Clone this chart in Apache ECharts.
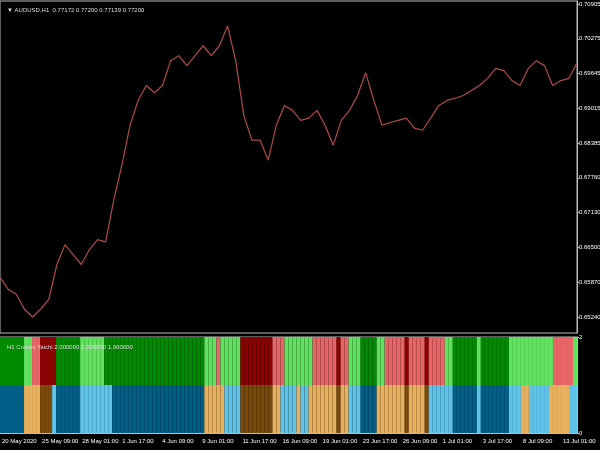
<!DOCTYPE html>
<html><head><meta charset="utf-8">
<script src="https://cdn.jsdelivr.net/npm/echarts@6/dist/echarts.min.js"></script>
<style>html,body{margin:0;background:#000}#c{width:600px;height:450px}</style></head>
<body><div id="c"></div>
<script>
const priceCloses=[0.6596,0.6574,0.6565,0.6538,0.6524,0.6538,0.6556,0.6619,0.6655,0.6637,0.6619,0.6646,0.6664,0.6660,0.6736,0.6799,0.6871,0.6916,0.6943,0.6930,0.6943,0.6988,0.6997,0.6979,0.6997,0.7015,0.6997,0.7015,0.7051,0.6988,0.6889,0.6844,0.6844,0.6808,0.6871,0.6907,0.6898,0.6880,0.6884,0.6898,0.6871,0.6835,0.6880,0.6898,0.6925,0.6966,0.6916,0.6871,0.6876,0.6880,0.6884,0.6866,0.6862,0.6884,0.6907,0.6916,0.6920,0.6925,0.6934,0.6943,0.6956,0.6974,0.6970,0.6952,0.6943,0.6974,0.6988,0.6979,0.6943,0.6952,0.6956,0.6984];
const priceTicks=[0.65240,0.65870,0.66500,0.67130,0.67760,0.68385,0.69015,0.69645,0.70275,0.70905];
const timeLabels=["20 May 2020","25 May 09:00","28 May 01:00","1 Jun 17:00","4 Jun 09:00","9 Jun 01:00","11 Jun 17:00","16 Jun 09:00","19 Jun 01:00","23 Jun 17:00","26 Jun 09:00","1 Jul 01:00","3 Jul 17:00","8 Jul 09:00","13 Jul 01:00"];
const upperRuns=[["G",6],["g",2],["r",2],["R",4],["G",6],["g",6],["G",25],["g",3],["r",1],["g",5],["R",8],["r",3],["g",7],["r",6],["R",1],["r",2],["g",3],["G",4],["g",2],["r",5],["R",1],["r",4],["R",1],["r",4],["g",2],["G",6],["g",1],["G",7],["g",11],["r",5],["g",1]];
const lowerRuns=[["B",6],["O",4],["N",3],["L",1],["B",6],["L",8],["B",23],["O",5],["L",4],["N",8],["O",2],["L",4],["O",1],["L",2],["O",7],["N",1],["O",2],["L",3],["B",4],["O",7],["N",1],["O",4],["N",1],["L",6],["B",6],["L",1],["B",7],["L",3],["O",2],["L",5],["O",5],["L",2]];
const colors={G:"#008a00",g:"#5fe35f",r:"#e86565",R:"#8f0000",B:"#005f87",L:"#5ec3e8",O:"#e8b05c",N:"#7a4a0a"};
function expand(runs){const a=[];runs.forEach(([k,n])=>{for(let i=0;i<n;i++)a.push(k)});return a;}
const up=expand(upperRuns),lo=expand(lowerRuns);
const N=up.length;
const cats=[];for(let i=0;i<N;i++)cats.push(i%10===0?timeLabels[i/10]||"":"");
const pcats=priceCloses.map((_,i)=>i);
const ch=echarts.init(document.getElementById('c'));
const lbl={color:"#fff",fontSize:6,fontWeight:"normal",fontFamily:"Liberation Sans"};
ch.setOption({
 backgroundColor:"#000",animation:false,
 title:[{text:"▼ AUDUSD,H1  0.77172 0.77200 0.77139 0.77200",left:2,top:2,textStyle:Object.assign({},lbl,{color:"#ddd"})},
  {text:"H1 Cronex Taichi 2.000000 2.000000 1.000000",left:2,top:339,textStyle:Object.assign({},lbl,{color:"#ddd"})}],
 grid:[{left:0,right:23,top:1,height:332,show:true,borderColor:"#bbb",borderWidth:1,containLabel:false,outerBoundsMode:"none"},
       {left:0,right:23,top:337,height:96,show:true,borderColor:"#bbb",borderWidth:1,containLabel:false,outerBoundsMode:"none"}],
 xAxis:[{type:"category",gridIndex:0,data:pcats,boundaryGap:false,show:false},
  {type:"category",gridIndex:1,data:cats,axisLine:{lineStyle:{color:"#bbb"}},axisTick:{show:false},
   axisLabel:Object.assign({interval:0,margin:5,align:"left",hideOverlap:false},lbl)}],
 yAxis:[{type:"value",gridIndex:0,position:"right",min:0.6495,max:0.7096,splitLine:{show:false},
   axisLine:{show:true,lineStyle:{color:"#bbb"}},axisTick:{show:true,customValues:priceTicks,length:2,inside:false},
   axisLabel:Object.assign({customValues:priceTicks,formatter:v=>v.toFixed(5),margin:2},lbl)},
  {type:"value",gridIndex:1,position:"right",min:0,max:2,splitLine:{show:false},
   axisLine:{show:true,lineStyle:{color:"#bbb"}},axisTick:{show:true,customValues:[0,2],length:2},
   axisLabel:Object.assign({customValues:[0,2],margin:2},lbl)}],
 series:[{type:"line",xAxisIndex:0,yAxisIndex:0,data:priceCloses,symbol:"none",lineStyle:{color:"#b04a4a",width:1.2}},
  {type:"bar",xAxisIndex:1,yAxisIndex:1,stack:"s",barCategoryGap:"0%",data:lo.map(k=>({value:1,itemStyle:{color:colors[k]}}))},
  {type:"bar",xAxisIndex:1,yAxisIndex:1,stack:"s",barCategoryGap:"0%",data:up.map(k=>({value:1,itemStyle:{color:colors[k]}}))}]
});
</script></body></html>
